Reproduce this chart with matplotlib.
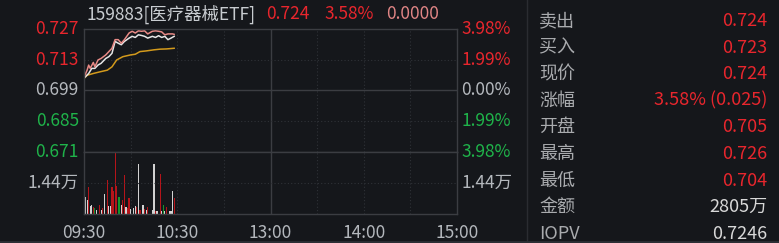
import matplotlib
matplotlib.use('Agg')
import matplotlib.pyplot as plt
import matplotlib.transforms as mtransforms

plt.rcParams['font.family'] = ['Noto Sans CJK SC', 'DejaVu Sans']

# intraday data (minutes after 09:30)
prev_close = 0.699
price_min = [0, 2, 3, 4, 6, 7, 9, 11, 14, 16, 18, 20, 22, 24, 26, 29, 31, 33, 35, 37,
             39, 41, 44, 46, 48, 50, 52, 54, 57, 58]
price = [0.7050, 0.7082, 0.7105, 0.7090, 0.7117, 0.7097, 0.7128, 0.7135, 0.7151, 0.7166,
         0.7181, 0.7220, 0.7220, 0.7204, 0.7220, 0.7250, 0.7258, 0.7250, 0.7260, 0.7258,
         0.7260, 0.7246, 0.7258, 0.7260, 0.7258, 0.7255, 0.7242, 0.7246, 0.7246, 0.7244]
iopv_min = [0, 3, 5, 7, 9, 11, 14, 16, 18, 20, 22, 24, 26, 29, 31, 33, 35, 37, 39, 41,
            44, 46, 48, 50, 52, 54, 56, 58]
iopv = [0.7046, 0.7067, 0.7090, 0.7090, 0.7105, 0.7113, 0.7135, 0.7143, 0.7158, 0.7212,
        0.7204, 0.7197, 0.7212, 0.7227, 0.7235, 0.7230, 0.7242, 0.7239, 0.7235, 0.7227,
        0.7235, 0.7230, 0.7238, 0.7230, 0.7235, 0.7220, 0.7227, 0.7235]
avg_min = [0, 2, 6, 10, 15, 18, 21, 25, 30, 33, 36, 40, 45, 49, 53, 58]
avg_price = [0.7044, 0.7059, 0.7067, 0.7074, 0.7082, 0.7097, 0.7128, 0.7143, 0.7151, 0.7154,
             0.7166, 0.7169, 0.7174, 0.7177, 0.7178, 0.7181]

# volume in 万, r = up, g = down, w = flat
vol_min = [0, 1, 2, 3, 4, 5, 6, 7, 8, 10, 11, 12, 13, 15, 16, 17, 18, 19, 20, 21, 22, 23,
           24, 25, 26, 27, 28, 29, 30, 32, 33, 34, 35, 36, 38, 39, 40, 41, 44, 45, 46, 47,
           49, 50, 51, 52, 53, 55, 56, 57, 58]
vol = [2.57, 0.79, 0.67, 1.24, 0.39, 0.43, 0.33, 0.28, 0.20, 0.43, 0.20, 0.28, 0.95, 1.57,
       0.36, 0.39, 1.26, 1.05, 2.87, 1.29, 0.79, 0.79, 0.43, 0.67, 1.83, 0.33, 0.28, 0.74,
       0.23, 0.28, 0.39, 0.33, 2.31, 0.20, 0.43, 0.23, 0.20, 0.33, 0.20, 2.31, 0.12, 0.12,
       1.88, 0.12, 0.43, 0.12, 0.33, 0.12, 0.12, 1.05, 0.74]
vol_dir = ['r', 'w', 'w', 'r', 'w', 'w', 'r', 'g', 'w', 'r', 'w', 'r', 'w', 'r', 'w', 'w',
           'r', 'r', 'r', 'r', 'g', 'g', 'w', 'r', 'r', 'w', 'r', 'r', 'w', 'w', 'w', 'r',
           'w', 'r', 'w', 'r', 'w', 'r', 'w', 'w', 'r', 'w', 'r', 'w', 'g', 'w', 'r', 'w',
           'w', 'w', 'r']

price_labels = ['0.727', '0.713', '0.699', '0.685', '0.671']
pct_labels = ['3.98%', '1.99%', '0.00%', '1.99%', '3.98%']
pct_steps = [2, 1, 0, -1, -2]
time_labels = ['09:30', '10:30', '13:00', '14:00', '15:00']
time_pos = [0, 60, 120, 180, 240]

info_names = ['卖出', '买入', '现价', '涨幅', '开盘', '最高', '最低', '金额', 'IOPV']
info_values = ['0.724', '0.723', '0.724', '3.58% (0.025)', '0.705', '0.726', '0.704',
               '2805万', '0.7246']
info_up = [True, True, True, True, True, True, True, False, False]

bg = '#15171b'
red = '#e8262d'
green = '#1fb34a'
gray = '#b4b8bd'
solid = '#3b3d42'
dotted = '#2f3237'

W, H = 779, 243
fig = plt.figure(figsize=(W / 100, H / 100), dpi=100, facecolor=bg)


def box(x0, y0, x1, y1):
    return [x0 / W, 1 - y1 / H, (x1 - x0) / W, (y1 - y0) / H]


step = 0.0199 * prev_close
ax = fig.add_axes(box(84, 29, 457, 152))
axv = fig.add_axes(box(84, 152, 457, 214))
for a in (ax, axv):
    a.set_facecolor(bg)
    a.set_xlim(0, 240)
    a.set_xticks([])
    a.set_yticks([])
    for s in a.spines.values():
        s.set_color(solid)
        s.set_linewidth(1)
    for m in (30, 60, 90, 150, 180, 210):
        a.axvline(m, color=dotted, lw=0.8, ls=(0, (1, 2)))
    a.axvline(120, color=solid, lw=1)

ax.set_ylim(prev_close - 2 * step, prev_close + 2 * step)
ax.axhline(prev_close + step, color=dotted, lw=0.8, ls=(0, (1, 2)))
ax.axhline(prev_close - step, color=dotted, lw=0.8, ls=(0, (1, 2)))
ax.axhline(prev_close, color=solid, lw=1)

ax.plot(avg_min, avg_price, color='#d39a1c', lw=1.1)
ax.plot(iopv_min, iopv, color='#e6e6e6', lw=1.1)
ax.plot(price_min, price, color='#e88a86', lw=1.1)

axv.set_ylim(0, 2.88)
axv.axhline(1.44, color=dotted, lw=0.8, ls=(0, (1, 2)))
bar_colors = {'r': '#b5141a', 'g': '#14962e', 'w': '#d2d2d2'}
axv.bar(vol_min, vol, width=0.75, color=[bar_colors[d] for d in vol_dir], lw=0)

fs = 12.5
trans = mtransforms.blended_transform_factory(ax.transAxes, ax.transData)
for k, lab, pl in zip(pct_steps, price_labels, pct_labels):
    c = red if k > 0 else (green if k < 0 else gray)
    y = prev_close + k * step
    ax.text(-0.014, y, lab, transform=trans, ha='right', va='center', color=c, fontsize=fs)
    ax.text(1.012, y, pl, transform=trans, ha='left', va='center', color=c, fontsize=fs)

vtrans = mtransforms.blended_transform_factory(axv.transAxes, axv.transData)
axv.text(-0.014, 1.44, '1.44万', transform=vtrans, ha='right', va='center', color=gray, fontsize=fs)
axv.text(1.012, 1.44, '1.44万', transform=vtrans, ha='left', va='center', color=gray, fontsize=fs)

ttrans = mtransforms.blended_transform_factory(axv.transData, axv.transAxes)
for p, t in zip(time_pos, time_labels):
    axv.text(p, -0.30, t, transform=ttrans, ha='center', va='center', color=gray, fontsize=fs)

# header
fig.text(86 / W, 1 - 14 / H, '159883[医疗器械ETF]', ha='left', va='center', color='#c8ccd0', fontsize=fs)
fig.text(266 / W, 1 - 14 / H, '0.724', ha='left', va='center', color=red, fontsize=fs)
fig.text(324 / W, 1 - 14 / H, '3.58%', ha='left', va='center', color=red, fontsize=fs)
fig.text(386 / W, 1 - 14 / H, '0.0000', ha='left', va='center', color='#e08585', fontsize=fs)

# side panel
fig.add_artist(plt.Line2D([527 / W, 527 / W], [0, 1], color='#2a2c31', lw=1))
fig.add_artist(plt.Line2D([0, 1], [1.5 / H, 1.5 / H], color='#2c2f35', lw=2))
for i, (n, v, up) in enumerate(zip(info_names, info_values, info_up)):
    y = 1 - (21 + i * 26.6) / H
    fig.text(539 / W, y, n, ha='left', va='center', color='#a9abae', fontsize=13)
    fig.text(767 / W, y, v, ha='right', va='center', color=red if up else '#d8d8d8', fontsize=13)

fig.savefig('out.png', dpi=100, facecolor=bg)
